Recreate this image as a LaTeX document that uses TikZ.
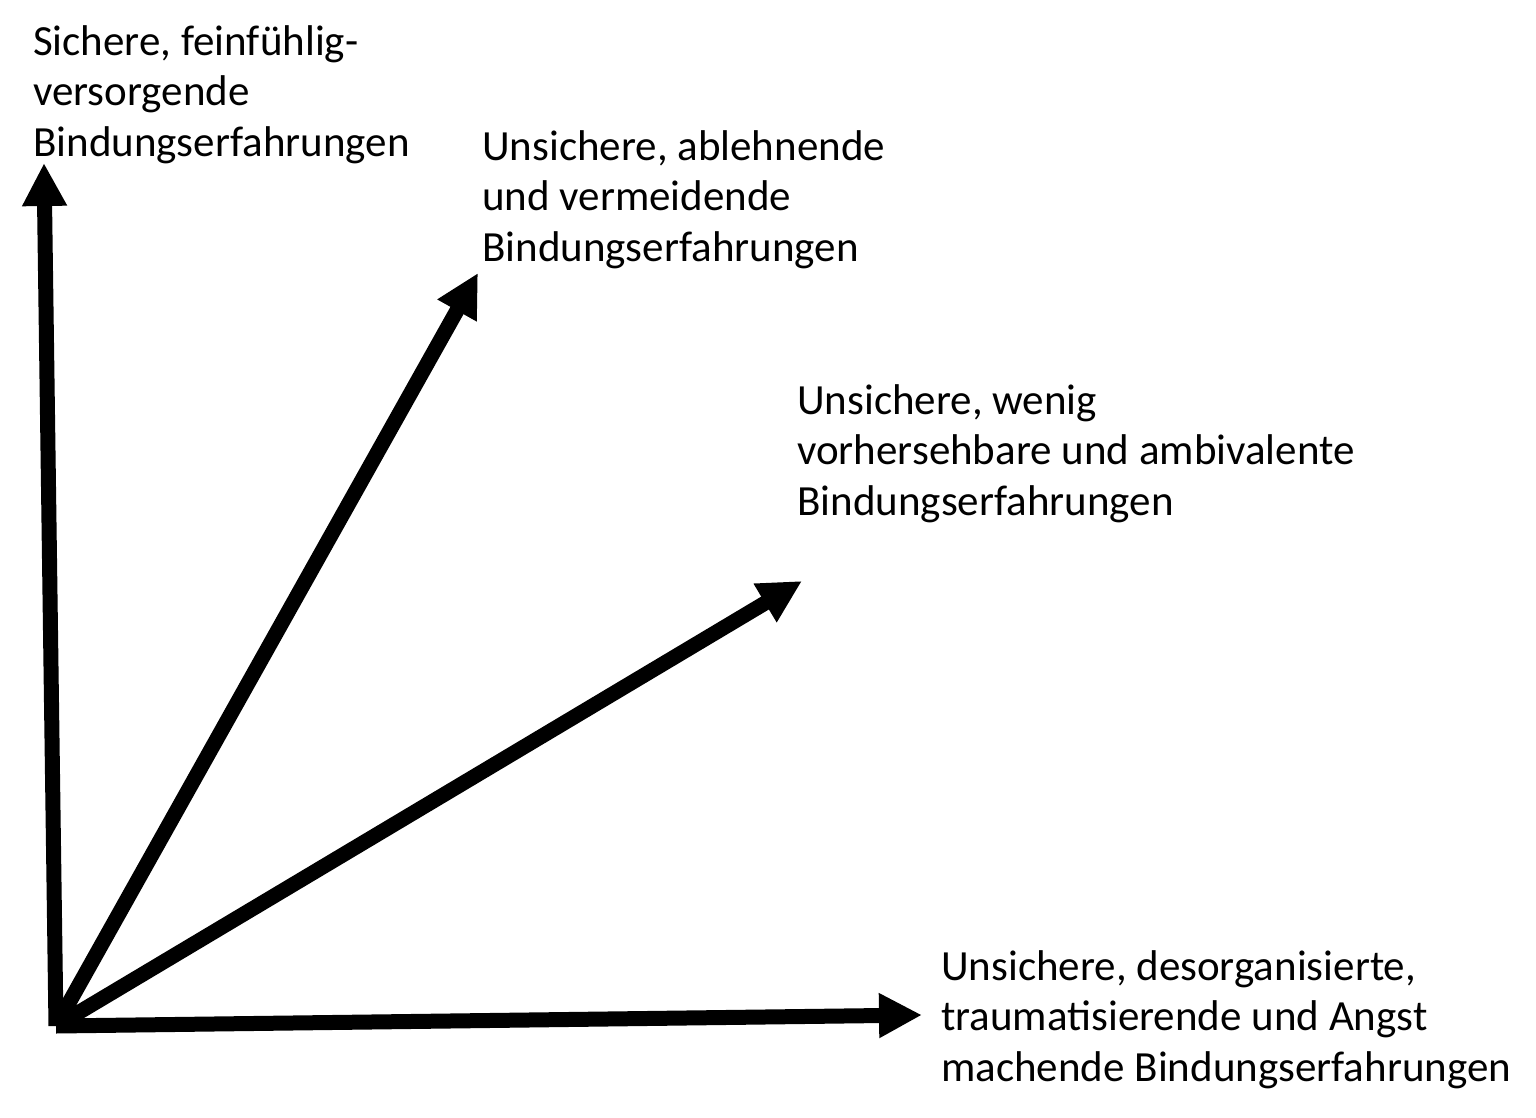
\documentclass[tikz,border=0pt]{standalone}
\usepackage{fontspec}
\setmainfont{Carlito}
\usetikzlibrary{arrows.meta}

\begin{document}
\begin{tikzpicture}[
  x=1pt, y=-1pt,
  font=\fontsize{43}{50.5}\selectfont,
  axis/.style={line width=15pt, -{Triangle[length=43pt, width=42pt]}},
  lbl/.style={align=left, inner sep=0pt, anchor=north west}
]
\useasboundingbox (0,0) rectangle (1536,1118);

% Common origin and the four arrow tips.
\coordinate (orig)  at (56,1026);
\coordinate (tipS)  at (44,163);
\coordinate (tipAv) at (478,273);
\coordinate (tipAm) at (802,581);
\coordinate (tipD)  at (922,1015);

% Four attachment types, one arrow each.
\draw[axis] (orig) -- (tipS);
\draw[axis] (orig) -- (tipAv);
\draw[axis] (orig) -- (tipAm);
\draw[axis] (orig) -- (tipD);

% Labels.
\node[lbl] (sicher) at (33,25) {Sichere, feinfühlig-\\versorgende\\Bindungserfahrungen};
\node[lbl] (vermeid) at (482,130) {Unsichere, ablehnende\\und vermeidende\\Bindungserfahrungen};
\node[lbl] (ambi) at (797,384) {Unsichere, wenig\\vorhersehbare und ambivalente\\Bindungserfahrungen};
\node[lbl] (desorg) at (941,950) {Unsichere, desorganisierte,\\traumatisierende und Angst\\machende Bindungserfahrungen};
\end{tikzpicture}
\end{document}
